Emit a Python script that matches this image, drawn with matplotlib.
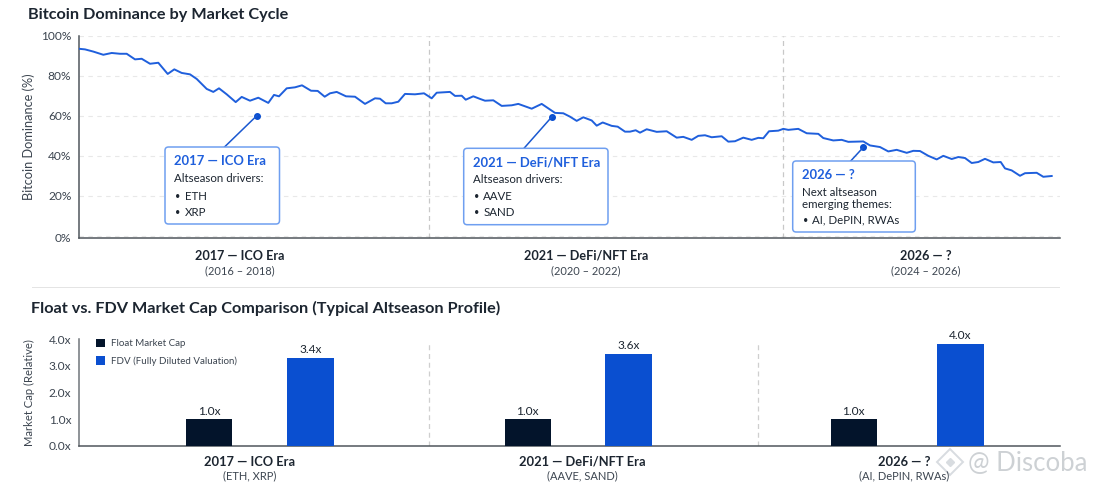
import matplotlib
matplotlib.use("Agg")
import matplotlib.pyplot as plt
from matplotlib.patches import FancyBboxPatch, Rectangle
from matplotlib.transforms import ScaledTranslation

plt.rcParams["font.family"] = ["Lato", "DejaVu Sans"]

# dominance curve (x = horizontal chart position)
cycle_x = [79, 85, 93.3, 103.3, 111.7, 120, 126.7, 135, 141.7, 150, 158.3, 167.7, 174.3, 181.7, 190,
           196.7, 206.7, 213.3, 219, 226.7, 235.7, 241.7, 250, 258.3, 268.3, 274, 279, 286.7, 295,
           302, 311, 317.7, 324.7, 330, 336.7, 346, 355, 365, 375, 380, 385.7, 391.7, 398.3, 405,
           415, 424, 431.7, 436.7, 450, 455, 461.7, 465.7, 473.3, 480, 485, 493.3, 501.7, 511.7,
           518.3, 531.7, 541.7, 555, 563.3, 570, 576.7, 583.3, 591.7, 596.7, 602.7, 611.7, 617.7,
           625, 630, 635.7, 640, 646.7, 656.7, 666.7, 676.7, 683.3, 691.7, 698.3, 705, 711.7, 721.7,
           728.3, 735, 743.3, 751.7, 758.3, 763.3, 769, 778.3, 783.3, 788.3, 798.3, 806.7, 818.3,
           823.3, 833.3, 841.7, 848.3, 863.3, 870, 880, 888.3, 896.7, 906.7, 913.3, 920, 928.3,
           936.7, 943.3, 951.7, 958.3, 965, 971.7, 978.3, 985, 993.3, 1000.7, 1005, 1011.7, 1020,
           1025, 1036.7, 1043.3, 1051.7]
dominance = [93.6, 93.3, 92.2, 90.6, 91.5, 91.1, 91.1, 88.3, 88.6, 86.1, 86.6, 81.0, 83.3, 81.5, 80.8,
             78.5, 73.5, 72.0, 73.8, 70.8, 66.9, 69.5, 67.6, 69.1, 66.5, 70.5, 69.8, 73.8, 74.3,
             75.3, 72.6, 72.5, 69.6, 71.3, 72.0, 69.8, 69.6, 66.0, 68.8, 68.6, 66.3, 66.3, 67.1, 71.0,
             70.8, 71.3, 68.8, 71.6, 72.0, 70.0, 70.1, 68.1, 69.8, 68.5, 67.6, 67.8, 65.0, 65.3,
             66.0, 63.6, 66.0, 61.5, 61.3, 59.6, 57.5, 59.3, 57.7, 55.1, 56.7, 55.0, 54.6,
             52.1, 52.1, 52.8, 51.6, 53.3, 52.0, 52.3, 49.1, 49.5, 48.0, 50.0, 50.3, 49.3, 49.8,
             47.1, 47.3, 49.1, 48.0, 49.0, 48.8, 52.3, 52.6, 53.5, 53.0, 53.5, 51.3, 51.0,
             48.9, 47.7, 48.0, 47.0, 47.2, 45.2, 44.4, 42.2, 43.0, 41.5, 42.5, 42.4, 40.0,
             38.2, 40.0, 38.4, 39.4, 38.9, 36.4, 36.9, 38.5, 36.7, 36.9, 33.7, 32.7, 30.0,
             31.3, 31.5, 29.5, 29.9]
dominance_ticks = [0, 20, 40, 60, 80, 100]
dominance_labels = ["0%", "20%", "40%", "60%", "80%", "100%"]
cycle_dividers = [429, 783]
callout_x = [257, 552.3, 863.3]
callout_y = [60, 59.6, 44.3]

era_names = ["2017 — ICO Era", "2021 — DeFi/NFT Era", "2026 — ?"]
era_years = ["(2016 – 2018)", "(2020 – 2022)", "(2024 – 2026)"]
era_tokens = ["(ETH, XRP)", "(AAVE, SAND)", "(AI, DePIN, RWAs)"]

# bar heights as drawn, labels as printed (the two differ in the source)
float_cap = [0.99, 0.99, 0.99]
fdv_cap = [3.29, 3.44, 3.81]
float_labels = ["1.0x", "1.0x", "1.0x"]
fdv_labels = ["3.4x", "3.6x", "4.0x"]
float_x = [209, 527.5, 853.5]
fdv_x = [310.5, 628.5, 960]
cap_ticks = [0, 1, 2, 3, 4]
cap_tick_labels = ["0.0x", "1.0x", "2.0x", "3.0x", "4.0x"]
cap_dividers = [429, 758]

BLUE = "#1f5fdc"
BAR_BLUE = "#0a4fd0"
NAVY = "#03142b"
INK = "#1c2530"
SOFT = "#3c4550"
W, H = 1093, 488


def axes_px(left, top, right, bottom):
    return [left / W, 1 - bottom / H, (right - left) / W, (bottom - top) / H]


fig = plt.figure(figsize=(W / 100, H / 100), dpi=100)

# top panel
ax = fig.add_axes(axes_px(79, 36, 1060, 238))
ax.set_xlim(79, 1060)
ax.set_ylim(-1.15, 100)
ax.set_yticks(dominance_ticks, dominance_labels)
ax.set_xticks([])
ax.tick_params(axis="y", length=0, pad=5.5, labelsize=8.6, labelcolor=SOFT)
ax.grid(axis="y", color="#e8e8e8", linestyle=(0, (4, 4)), linewidth=0.8)
ax.set_axisbelow(True)
for x in cycle_dividers:
    ax.axvline(x, color="#c8c8c8", linestyle=(0, (4, 3)), linewidth=0.9, zorder=1)
ax.plot(cycle_x, dominance, color=BLUE, linewidth=1.4, zorder=3)
ax.plot(callout_x, callout_y, "o", color="#0a4fd0", markersize=4, zorder=4)
ax.spines[["top", "right"]].set_visible(False)
ax.spines[["left", "bottom"]].set_color("#50565c")
ax.spines[["left", "bottom"]].set_linewidth(1.1)
ax.set_ylabel("Bitcoin Dominance (%)", fontsize=9.2, color=SOFT)
ax.yaxis.set_label_coords((35 - 79) / (1060 - 79), 0.5)
lab0 = ax.get_yticklabels()[0]
lab0.set_transform(lab0.get_transform() + ScaledTranslation(0, -2 / 100, fig.dpi_scale_trans))

# bottom panel
bx = fig.add_axes(axes_px(79, 339, 1060, 445.7))
bx.set_xlim(79, 1060)
bx.set_ylim(0, 4)
bx.set_yticks(cap_ticks, cap_tick_labels)
bx.set_xticks([])
bx.tick_params(axis="y", length=0, pad=5.5, labelsize=8.6, labelcolor=SOFT)
for x in cap_dividers:
    bx.axvline(x, ymax=0.97, color="#cfcfcf", linestyle=(0, (4, 3)), linewidth=0.9, zorder=1)
float_bars = bx.bar(float_x, float_cap, width=46, color=NAVY, label="Float Market Cap", zorder=3)
fdv_bars = bx.bar(fdv_x, fdv_cap, width=47, color=BAR_BLUE, label="FDV (Fully Diluted Valuation)", zorder=3)
for bars, labels in ((float_bars, float_labels), (fdv_bars, fdv_labels)):
    for t in bx.bar_label(bars, labels=labels, padding=2, fontsize=8.6, color=INK):
        t.set_clip_on(False)
bx.spines[["top", "right"]].set_visible(False)
bx.spines["left"].set_color("#70757a")
bx.spines["bottom"].set_color("#50565c")
bx.spines[["left", "bottom"]].set_linewidth(1.1)
bx.set_ylabel("Market Cap (Relative)", fontsize=8.1, color=SOFT)
bx.yaxis.set_label_coords((35 - 79) / (1060 - 79), 0.5)
bx.legend(loc="upper left", bbox_to_anchor=(0.017, 1.0), frameon=False, fontsize=7.0,
          handlelength=0.92, handleheight=0.92, handletextpad=0.7, labelspacing=0.8,
          borderpad=0, borderaxespad=0, labelcolor=SOFT)

# layout text and callouts, in picture pixels
ov = fig.add_axes([0, 0, 1, 1], zorder=5)
ov.set_xlim(0, W)
ov.set_ylim(H, 0)
ov.axis("off")
ov.patch.set_alpha(0)

ov.text(28, 15, "Bitcoin Dominance by Market Cycle", fontsize=11.7, fontweight="bold", color=INK, va="center")
ov.text(31, 308, "Float vs. FDV Market Cap Comparison (Typical Altseason Profile)", fontsize=11.7,
        fontweight="bold", color=INK, va="center")
ov.add_patch(Rectangle((32, 287), 1028, 0.9, color="#e4e4e4", lw=0))

for name, years, cx in zip(era_names, era_years, (240, 586, 926)):
    ov.text(cx, 255.7, name, fontsize=9.1, fontweight="bold", color=INK, ha="center", va="center")
    ov.text(cx, 271, years, fontsize=7.9, color=SOFT, ha="center", va="center")
for name, tokens, cx in zip(era_names, era_tokens, (250, 582.6, 904.5)):
    ov.text(cx, 461.7, name, fontsize=9.3, fontweight="bold", color=INK, ha="center", va="center")
    ov.text(cx, 476, tokens, fontsize=8, color=SOFT, ha="center", va="center")


def callout(left, top, right, bottom, foot, tip, title, rows, bullets):
    ov.plot([foot, tip[0]], [top, tip[1]], color="#1a58d0", linewidth=1.1, zorder=1)
    ov.add_patch(FancyBboxPatch((left, top), right - left, bottom - top, boxstyle="round,pad=0,rounding_size=3.5",
                                facecolor="white", edgecolor="#6f9ff0", linewidth=1.1, zorder=2))
    ov.text(left + 9, top + 14, title, fontsize=9.4, fontweight="bold", color=BLUE, va="center", zorder=3)
    for text, y in rows:
        ov.text(left + 9, y, text, fontsize=8.3, color=INK, va="center", zorder=3)
    for text, y in bullets:
        ov.text(left + 10, y, "•", fontsize=6.5, color=INK, va="center", zorder=3)
        ov.text(left + 19.5, y, text, fontsize=8.3, color=INK, va="center", zorder=3)


callout(165, 147, 279.5, 224, 224.5, (257, 115.5), era_names[0],
        [("Altseason drivers:", 178.5)], [("ETH", 196), ("XRP", 212)])
callout(463.7, 148.3, 608, 224.7, 524, (552.3, 116.3), era_names[1],
        [("Altseason drivers:", 179.7)], [("AAVE", 196.7), ("SAND", 212)])
callout(792.7, 161, 915.3, 232, 850.7, (863.3, 147.3), era_names[2],
        [("Next altseason", 192), ("emerging themes:", 205)], [("AI, DePIN, RWAs", 220)])

# watermark
ov.plot([950], [462], "D", markersize=13, markerfacecolor="none", markeredgecolor="#d8dce0", markeredgewidth=1.4)
ov.plot([950], [462], "D", markersize=4.5, color="#d8dce0")
ov.text(968, 463, "@ Discoba", fontsize=18.5, color="#c8ccd0", va="center", alpha=0.9)

fig.savefig("out.png", dpi=100)
